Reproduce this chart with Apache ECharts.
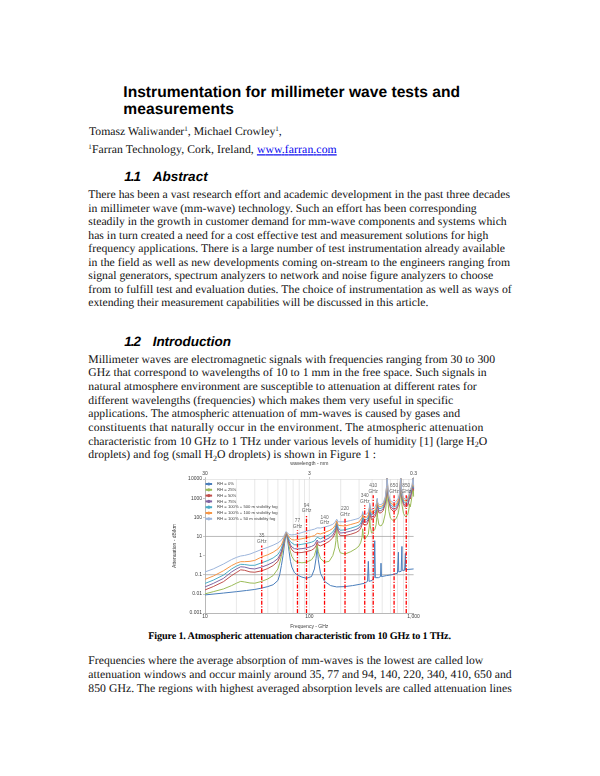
<!DOCTYPE html>
<html><head><meta charset="utf-8">
<script src="https://cdn.jsdelivr.net/npm/echarts@6/dist/echarts.min.js"></script>
<style>
html,body{margin:0;padding:0;background:#fff;}
#page{position:relative;width:600px;height:776px;overflow:hidden;background:#fff;}
#txt{position:absolute;left:0;top:0;}
#chart{position:absolute;left:160px;top:455px;width:280px;height:180px;}
.b{font-family:"Liberation Serif","Times New Roman",serif;font-size:11.7px;fill:#111;}
</style></head><body>
<div id="page">
<svg id="txt" width="600" height="776" xmlns="http://www.w3.org/2000/svg" text-rendering="geometricPrecision">
<g font-family="Liberation Sans, Arial, sans-serif" font-weight="bold" font-size="15.6" fill="#000">
<text x="123.3" y="96.7" textLength="336.7" lengthAdjust="spacing">Instrumentation for millimeter wave tests and</text>
<text x="123.3" y="114.3" textLength="110.7" lengthAdjust="spacing">measurements</text>
</g>
<text class="b" x="89" y="135" textLength="192.7" lengthAdjust="spacing">Tomasz Waliwander<tspan dy="-4" font-size="7">1</tspan><tspan dy="4">, Michael Crowley</tspan><tspan dy="-4" font-size="7">1</tspan><tspan dy="4">,</tspan></text>
<text class="b" x="88.3" y="153.3" textLength="248.4" lengthAdjust="spacing"><tspan dy="-4" font-size="7">1</tspan><tspan dy="4">Farran Technology, Cork, Ireland, </tspan><tspan fill="#0000ee" text-decoration="underline">www.farran.com</tspan></text>
<g font-family="Liberation Sans, Arial, sans-serif" font-weight="bold" font-style="italic" font-size="13.5" fill="#000">
<text x="124.3" y="181" textLength="16.7" lengthAdjust="spacing">1.1</text>
<text x="152.7" y="181" textLength="55" lengthAdjust="spacing">Abstract</text>
<text x="124.3" y="346" textLength="16.7" lengthAdjust="spacing">1.2</text>
<text x="152.7" y="346" textLength="78.3" lengthAdjust="spacing">Introduction</text>
</g>
<text class="b" x="88.3" y="198.3" textLength="421.7" lengthAdjust="spacing">There has been a vast research effort and academic development in the past three decades</text>
<text class="b" x="88.3" y="211.8" textLength="388.4" lengthAdjust="spacing">in millimeter wave (mm-wave) technology. Such an effort has been corresponding</text>
<text class="b" x="88.3" y="225.2" textLength="418.4" lengthAdjust="spacing">steadily in the growth in customer demand for mm-wave components and systems which</text>
<text class="b" x="88.3" y="238.7" textLength="400" lengthAdjust="spacing">has in turn created a need for a cost effective test and measurement solutions for high</text>
<text class="b" x="88.3" y="252.1" textLength="416.7" lengthAdjust="spacing">frequency applications. There is a large number of test instrumentation already available</text>
<text class="b" x="88.3" y="265.6" textLength="421.7" lengthAdjust="spacing">in the field as well as new developments coming on-stream to the engineers ranging from</text>
<text class="b" x="88.3" y="279.1" textLength="405" lengthAdjust="spacing">signal generators, spectrum analyzers to network and noise figure analyzers to choose</text>
<text class="b" x="88.3" y="292.5" textLength="423.4" lengthAdjust="spacing">from to fulfill test and evaluation duties. The choice of instrumentation as well as ways of</text>
<text class="b" x="88.3" y="306" textLength="340" lengthAdjust="spacing">extending their measurement capabilities will be discussed in this article.</text>

<text class="b" x="88.3" y="362.7" textLength="406.7" lengthAdjust="spacing">Millimeter waves are electromagnetic signals with frequencies ranging from 30 to 300</text>
<text class="b" x="88.3" y="376.3" textLength="398.4" lengthAdjust="spacing">GHz that correspond to wavelengths of 10 to 1 mm in the free space. Such signals in</text>
<text class="b" x="88.3" y="390" textLength="388.4" lengthAdjust="spacing">natural atmosphere environment are susceptible to attenuation at different rates for</text>
<text class="b" x="88.3" y="403.6" textLength="365" lengthAdjust="spacing">different wavelengths (frequencies) which makes them very useful in specific</text>
<text class="b" x="88.3" y="417.3" textLength="371.7" lengthAdjust="spacing">applications. The atmospheric attenuation of mm-waves is caused by gases and</text>
<text class="b" x="88.3" y="430.9" textLength="395" lengthAdjust="spacing">constituents that naturally occur in the environment. The atmospheric attenuation</text>
<text class="b" x="88.3" y="444.6" textLength="399" lengthAdjust="spacing">characteristic from 10 GHz to 1 THz under various levels of humidity [1] (large H<tspan dy="2.5" font-size="8">2</tspan><tspan dy="-2.5">O</tspan></text>
<text class="b" x="88.3" y="458.3" textLength="287.7" lengthAdjust="spacing">droplets) and fog (small H<tspan dy="2.5" font-size="8">2</tspan><tspan dy="-2.5">O droplets) is shown in Figure 1 :</tspan></text>

<text x="148.3" y="639" textLength="302.7" lengthAdjust="spacing" font-family="Liberation Serif, Times New Roman, serif" font-weight="bold" font-size="10.2" fill="#000">Figure 1. Atmospheric attenuation characteristic from 10 GHz to 1 THz.</text>

<text class="b" x="88.3" y="664.3" textLength="395" lengthAdjust="spacing">Frequencies where the average absorption of mm-waves is the lowest are called low</text>
<text class="b" x="88.3" y="678.3" textLength="423.4" lengthAdjust="spacing">attenuation windows and occur mainly around 35, 77 and 94, 140, 220, 340, 410, 650 and</text>
<text class="b" x="88.3" y="691.7" textLength="423.4" lengthAdjust="spacing">850 GHz. The regions with highest averaged absorption levels are called attenuation lines</text>
</svg>
<div id="chart"></div>
</div>
<script>
// ---- data ----
const freqGHz = [10,12,15,18,20,22,24,27,30,35,
 40,45,50,52,54,56,58,60,62,64,
 66,68,72,77,85,94,105,112,116,119,
 122,128,140,155,168,176,180,183,186,190,
 198,220,250,280,300,312,320,325,330,340,
 355,368,376,380,384,395,410,424,437,444,
 448,452,465,487,510,535,550,557,565,580,
 600,621,640,650,670,700,715,735,745,752,
 760,773,800,834,850,880,905,916,930,950,
 970,980,988,1000];

const rh25 = [0.010,0.013,0.018,0.027,0.036,0.045,0.042,0.037,0.036,0.045,
 0.06,0.09,0.2,0.4,0.9,2.2,7,15,8,3,
 1.5,0.9,0.55,0.45,0.42,0.45,0.6,1.0,2.0,3.8,
 1.6,0.7,0.45,0.5,1.0,2.5,6,40,7,2.8,
 1.4,1.2,1.6,2.3,3.2,5,9,25,9,7,
 8,13,35,120,35,15,18,22,40,100,
 250,100,40,35,50,150,800,20000,800,200,
 90,110,65,62,75,120,170,450,1500,20000,
 1500,450,160,110,105,140,300,500,350,400,
 1500,3000,20000,1200];

const rh50 = [0.016,0.024,0.043,0.09,0.13,0.18,0.17,0.14,0.135,0.16,
 0.21,0.3,0.5,0.8,1.4,3,8,15.5,9,4.5,
 2.8,2.0,1.5,1.4,1.45,1.6,1.9,2.4,3.2,5,
 3.5,3.2,4,5.5,8.5,14,24,55,26,16,
 11,11,13,16,20,27,40,90,42,35,
 40,60,130,300,130,75,80,100,150,300,
 600,300,170,170,220,500,2000,20000,2000,600,
 300,320,200,190,220,320,420,1000,3000,20000,
 3000,1000,450,340,330,400,800,1200,900,1000,
 3000,6000,20000,2500];

const rh75 = [0.023,0.035,0.064,0.14,0.2,0.26,0.25,0.21,0.2,0.25,
 0.33,0.45,0.7,1.05,1.7,3.5,8.5,16,10,5.5,
 3.6,2.8,2.3,2.2,2.3,2.5,3.0,3.6,4.5,6.5,
 5,5,6.2,8.3,12,19,30,58,32,21,
 15,16,19,23,28,37,55,110,57,50,
 56,80,170,350,170,100,110,135,190,380,
 700,380,220,220,280,650,2500,20000,2500,750,
 380,400,260,250,280,400,520,1200,3500,20000,
 3500,1200,550,420,400,480,950,1400,1100,1200,
 3500,7000,20000,3000];

const fogA = [0.035,0.052,0.095,0.2,0.28,0.35,0.34,0.31,0.31,0.42,
 0.55,0.75,1.15,1.6,2.4,4.5,9.5,16.5,11,7,
 5.2,4.3,3.7,3.6,3.9,4.3,5.0,5.8,7,9,
 7.3,7.5,9.5,12,17,26,38,62,40,28,
 21,22,27,33,39,50,70,130,75,66,
 75,105,210,400,210,135,150,180,240,450,
 800,450,290,290,360,800,3000,20000,3000,900,
 480,500,340,330,370,500,650,1400,4000,20000,
 4000,1400,680,550,520,620,1100,1600,1300,1400,
 4000,8000,20000,3500];

const fogB = [0.057,0.085,0.16,0.3,0.4,0.48,0.48,0.5,0.56,0.85,
 1.1,1.5,2.2,2.7,3.6,5.8,10.5,17,12.5,9,
 7.5,6.8,6.5,6.8,7.6,8.5,10,11,12.5,14.5,
 13,13.5,16,20,26,36,48,66,50,38,
 32,35,42,50,57,70,95,160,100,90,
 100,135,250,450,250,175,200,230,300,520,
 900,520,360,360,440,950,3500,20000,3500,1050,
 600,620,440,430,470,620,800,1700,4500,20000,
 4500,1700,850,700,660,780,1300,1900,1550,1650,
 4500,9000,20000,4000];

const fogC = [0.14,0.2,0.36,0.62,0.8,0.95,1.02,1.2,1.5,2.1,
 2.7,3.5,4.6,5.3,6.3,8.5,12.5,18,14.5,12.5,
 12,12,12.5,13.5,16,19,22,24,25.5,28,
 26.5,27.5,31,36,43,54,65,80,68,58,
 52,58,68,80,90,105,130,200,140,130,
 145,190,320,550,320,240,270,310,380,620,
 1000,620,450,460,550,1150,4000,20000,4000,1250,
 750,780,580,570,620,780,1000,2000,5000,20000,
 5000,2000,1050,880,830,970,1600,2200,1800,2000,
 5000,10000,20000,4500];

const freqDryGHz = [10,15,20,25,30,35,40,45,50,52,
 54,56,58,60,62,64,66,68,72,77,
 85,94,105,112,116,119,122,128,140,160,
 183,220,260,300,340,362,368,374,400,418,
 424,430,460,482,487,492,550,620,700,710,
 715,720,760,768,773,778,820,829,834,839,
 900,1000];
const rh0 = [0.0088,0.011,0.013,0.015,0.017,0.02,0.024,0.03,0.05,0.1,
 0.3,1.0,4.5,15,6,1.6,0.5,0.25,0.13,0.095,
 0.075,0.065,0.08,0.2,0.7,3,0.6,0.12,0.045,0.027,
 0.023,0.024,0.027,0.031,0.036,0.045,0.5,0.045,0.05,0.07,
 6,0.07,0.07,0.08,0.4,0.08,0.09,0.1,0.12,0.14,
 1.5,0.14,0.15,0.17,3,0.17,0.17,0.18,1.3,0.18,
 0.19,0.2];

const seriesNames = ['RH = 0%','RH = 25%','RH = 50%','RH = 75%',
 'RH = 100% + 500 m visibility fog','RH = 100% + 100 m visibility fog','RH = 100% + 50 m visibility fog'];
const seriesColors = ['#4a7ebb','#9bbb59','#c0504d','#8064a2','#4bacc6','#f79646','#9db5db'];

const windowsGHz = [35, 77, 94, 140, 220, 340, 410, 650, 850];
const windowLabelLevel = [3.4, 21, 135, 31, 85, 420, 1400, 1400, 1400];
const minorGridGHz = [20,30,40,50,60,70,80,90,100,200,300,400,500,600,700,800,900];
const yGridLines = [10, 0.1];
const yTickLabels = {'-3':'0.001','-2':'0.01','-1':'0.1','0':'1','1':'10','2':'100','3':'1000','4':'10000'};
const wavelengthLabels = {'1':'30','2':'3','3':'0.3'};
const X_MIN = 10, X_MAX = 1000, Y_MIN = 0.001, Y_MAX = 10000;

// ---- chart ----
const pair = (fs, vs) => fs.map((f, i) => [f, vs[i]]);
const curveData = [pair(freqDryGHz, rh0), pair(freqGHz, rh25), pair(freqGHz, rh50), pair(freqGHz, rh75),
  pair(freqGHz, fogA), pair(freqGHz, fogB), pair(freqGHz, fogC)];

const FONT = 'Liberation Sans';
const chart = echarts.init(document.getElementById('chart'), null, {renderer: 'canvas'});

const curves = curveData.map((d, i) => ({
  name: seriesNames[i], type: 'line', data: d, showSymbol: false, symbol: 'none',
  smooth: false, clip: true, z: 3, silent: true,
  lineStyle: {color: seriesColors[i], width: 1}, itemStyle: {color: seriesColors[i]}
}));

// reference lines drawn as plain line series through the axes
const refLine = (data, style, z) => ({
  type: 'line', data: data, showSymbol: false, symbol: 'none', silent: true, z: z, clip: true,
  lineStyle: style, itemStyle: {color: style.color}, legendHoverLink: false, tooltip: {show: false}
});
const gridV = minorGridGHz.map(f => refLine([[f, Y_MIN], [f, Y_MAX]],
  {color: '#d9d9d9', width: 0.6, type: 'solid'}, 1));
const gridH = yGridLines.map(v => refLine([[X_MIN, v], [X_MAX, v]],
  {color: '#a6a6a6', width: 0.8, type: 'solid'}, 1));
const redLines = windowsGHz.map((f, i) => refLine([[f, Y_MIN], [f, windowLabelLevel[i]]],
  {color: '#ff0000', width: 1.3, type: [4, 1.5, 1.2, 1.5]}, 4));
const windowLabels = {
  type: 'scatter', silent: true, z: 5, symbolSize: 0.01, itemStyle: {color: 'rgba(0,0,0,0)'},
  data: windowsGHz.map((f, i) => ({value: [f, windowLabelLevel[i]], name: String(f)})),
  label: {show: true, position: 'top', distance: 1.2, formatter: p => p.name + '\nGHz',
    fontSize: 4.8, lineHeight: 5.6, color: '#404040', fontFamily: FONT}
};

chart.setOption({
  animation: false,
  backgroundColor: 'transparent',
  textStyle: {fontFamily: FONT},
  grid: {left: 45, top: 24, width: 208.6, height: 134, containLabel: false, outerBoundsMode: 'none'},
  legend: {
    data: seriesNames, orient: 'vertical', left: 44.5, top: 27, padding: 0,
    itemWidth: 6.6, itemHeight: 4, itemGap: 1.8, selectedMode: false,
    textStyle: {fontSize: 4.2, color: '#404040', fontFamily: FONT}
  },
  xAxis: [{
    type: 'log', logBase: 10, min: X_MIN, max: X_MAX, position: 'bottom',
    name: 'Frequency - GHz', nameLocation: 'middle', nameGap: 10,
    nameTextStyle: {fontSize: 5, color: '#404040', fontFamily: FONT},
    axisLine: {show: true, lineStyle: {color: '#a6a6a6', width: 0.8}},
    axisTick: {show: true, length: 2, lineStyle: {color: '#a6a6a6', width: 0.6}},
    axisLabel: {fontSize: 5, color: '#404040', margin: 1.5, fontFamily: FONT},
    splitLine: {show: false}, minorTick: {show: false}
  }, {
    type: 'log', logBase: 10, min: X_MIN, max: X_MAX, position: 'top',
    name: 'wavelength - mm', nameLocation: 'middle', nameGap: 12,
    nameTextStyle: {fontSize: 5, color: '#404040', fontFamily: FONT},
    axisLine: {show: true, lineStyle: {color: '#d9d9d9', width: 0.6}},
    axisTick: {show: true, length: 2, lineStyle: {color: '#a6a6a6', width: 0.6}},
    axisLabel: {fontSize: 5, color: '#404040', margin: 2.5, fontFamily: FONT,
      formatter: v => wavelengthLabels[String(Math.round(Math.log10(v)))] || ''},
    splitLine: {show: false}
  }],
  yAxis: {
    type: 'log', logBase: 10, min: Y_MIN, max: Y_MAX,
    name: 'Attenuation - dB/km', nameLocation: 'middle', nameGap: 16,
    nameTextStyle: {fontSize: 5, color: '#404040', fontFamily: FONT},
    axisLine: {show: true, lineStyle: {color: '#a6a6a6', width: 0.8}},
    axisTick: {show: true, length: 2, lineStyle: {color: '#a6a6a6', width: 0.6}},
    axisLabel: {fontSize: 5, color: '#404040', margin: 3, fontFamily: FONT,
      formatter: v => yTickLabels[String(Math.round(Math.log10(v)))] || ''},
    splitLine: {show: false}
  },
  series: gridV.concat(gridH).concat(curves).concat(redLines).concat([windowLabels])
});
</script>
</body></html>
